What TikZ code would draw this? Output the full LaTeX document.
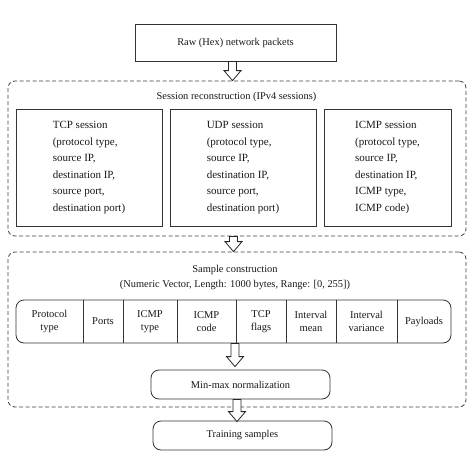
\documentclass[tikz,border=0pt]{standalone}
\usepackage{fontspec}
\setmainfont{Liberation Serif}
\usetikzlibrary{positioning, calc}

% hollow block arrow from one node anchor down to another
\newcommand{\hollowarrow}[2]{%
  \draw[hollow] let \p1=(#1), \p2=(#2) in
    (\x1-4pt,\y1) -- (\x1-4pt,\y2+10pt) -- (\x1-8.5pt,\y2+10pt) -- (\x1,\y2)
    -- (\x1+8.5pt,\y2+10pt) -- (\x1+4pt,\y2+10pt) -- (\x1+4pt,\y1) -- cycle;}

\begin{document}
\begin{tikzpicture}[x=1pt, y=-1pt]
    % settings for this picture
    \tikzset{
      every node/.style={text=black!90},
      line/.style={draw=black!80, line width=0.8pt},
      box/.style={line, rectangle, inner sep=0pt},
      roundbox/.style={line, rectangle, rounded corners=8pt, inner sep=0pt},
      group/.style={draw=black!75, line width=0.8pt, dash pattern=on 4pt off 2.5pt,
        rounded corners=7pt, rectangle, inner sep=0pt},
      hollow/.style={draw=black!85, line width=0.8pt, fill=white, line join=miter},
      heading/.style={font=\fontsize{10.4}{15}\selectfont, align=center},
      session/.style={font=\fontsize{11}{16.5}\selectfont, align=left},
      cell/.style={font=\fontsize{10.5}{13}\selectfont, align=center},
    }

    \fill[white] (0,0) rectangle (474,474);
    \useasboundingbox (0,0) rectangle (474,474);

    % groups
    \node[group, minimum width=458pt, minimum height=155pt] (sess) at (237,158.5) {};
    \node[group, minimum width=458pt, minimum height=155pt] (samp) at (237,329.5) {};

    % input
    \node[box, heading, minimum width=201pt, minimum height=37pt] (raw) at (235.5,42.5)
      {Raw (Hex) network packets};

    % session reconstruction
    \node[heading] (sesstitle) at (236.5,97) {Session reconstruction (IPv4 sessions)};
    \node[box, minimum width=146pt, minimum height=117pt] (tcp) at (89,167.5) {};
    \node[box, minimum width=146pt, minimum height=117pt] (udp) at (243,167.5) {};
    \node[box, minimum width=127pt, minimum height=117pt] (icmp) at (387.5,167.5) {};
    \node[session] at (tcp.center) {TCP session\\(protocol type,\\source IP,\\destination IP,\\source port,\\destination port)};
    \node[session] at (udp.center) {UDP session\\(protocol type,\\source IP,\\destination IP,\\source port,\\destination port)};
    \node[session] at (icmp.center) {ICMP session\\(protocol type,\\source IP,\\destination IP,\\ICMP type,\\ICMP code)};

    % sample construction
    \node[heading] (samptitle) at (235,277.5)
      {Sample construction\\(Numeric Vector, Length: 1000 bytes, Range: [0, 255])};
    \node[roundbox, minimum width=435pt, minimum height=43pt] (vec) at (233.5,321.5) {};
    \foreach \x/\txt [count=\i] in {49.5/{Protocol\\type}, 103/{Ports}, 150/{ICMP\\type},
        206.5/{ICMP\\code}, 261/{TCP\\flags}, 311/{Interval\\mean},
        366.5/{Interval\\variance}, 424/{Payloads}}
      \node[cell] (c\i) at (\x,321.5) {\txt};
    \foreach \x in {83,123,177,236,286,336,397}
      \draw[line] (\x,0 |- vec.north) -- (\x,0 |- vec.south);

    \node[roundbox, heading, minimum width=179pt, minimum height=29pt] (norm) at (240.5,384.5)
      {Min-max normalization};

    % output
    \node[roundbox, heading, minimum width=179pt, minimum height=29pt] (train) at (242.5,435.5)
      {Training samples};

    % flow
    \hollowarrow{[xshift=-3pt]raw.south}{sess.north}
    \hollowarrow{[xshift=-3.5pt]sess.south}{samp.north}
    \hollowarrow{[xshift=1.5pt]vec.south}{[yshift=3pt]norm.north}
    \hollowarrow{[xshift=-3.5pt]norm.south}{[yshift=-1pt]train.north}

\end{tikzpicture}
\end{document}
